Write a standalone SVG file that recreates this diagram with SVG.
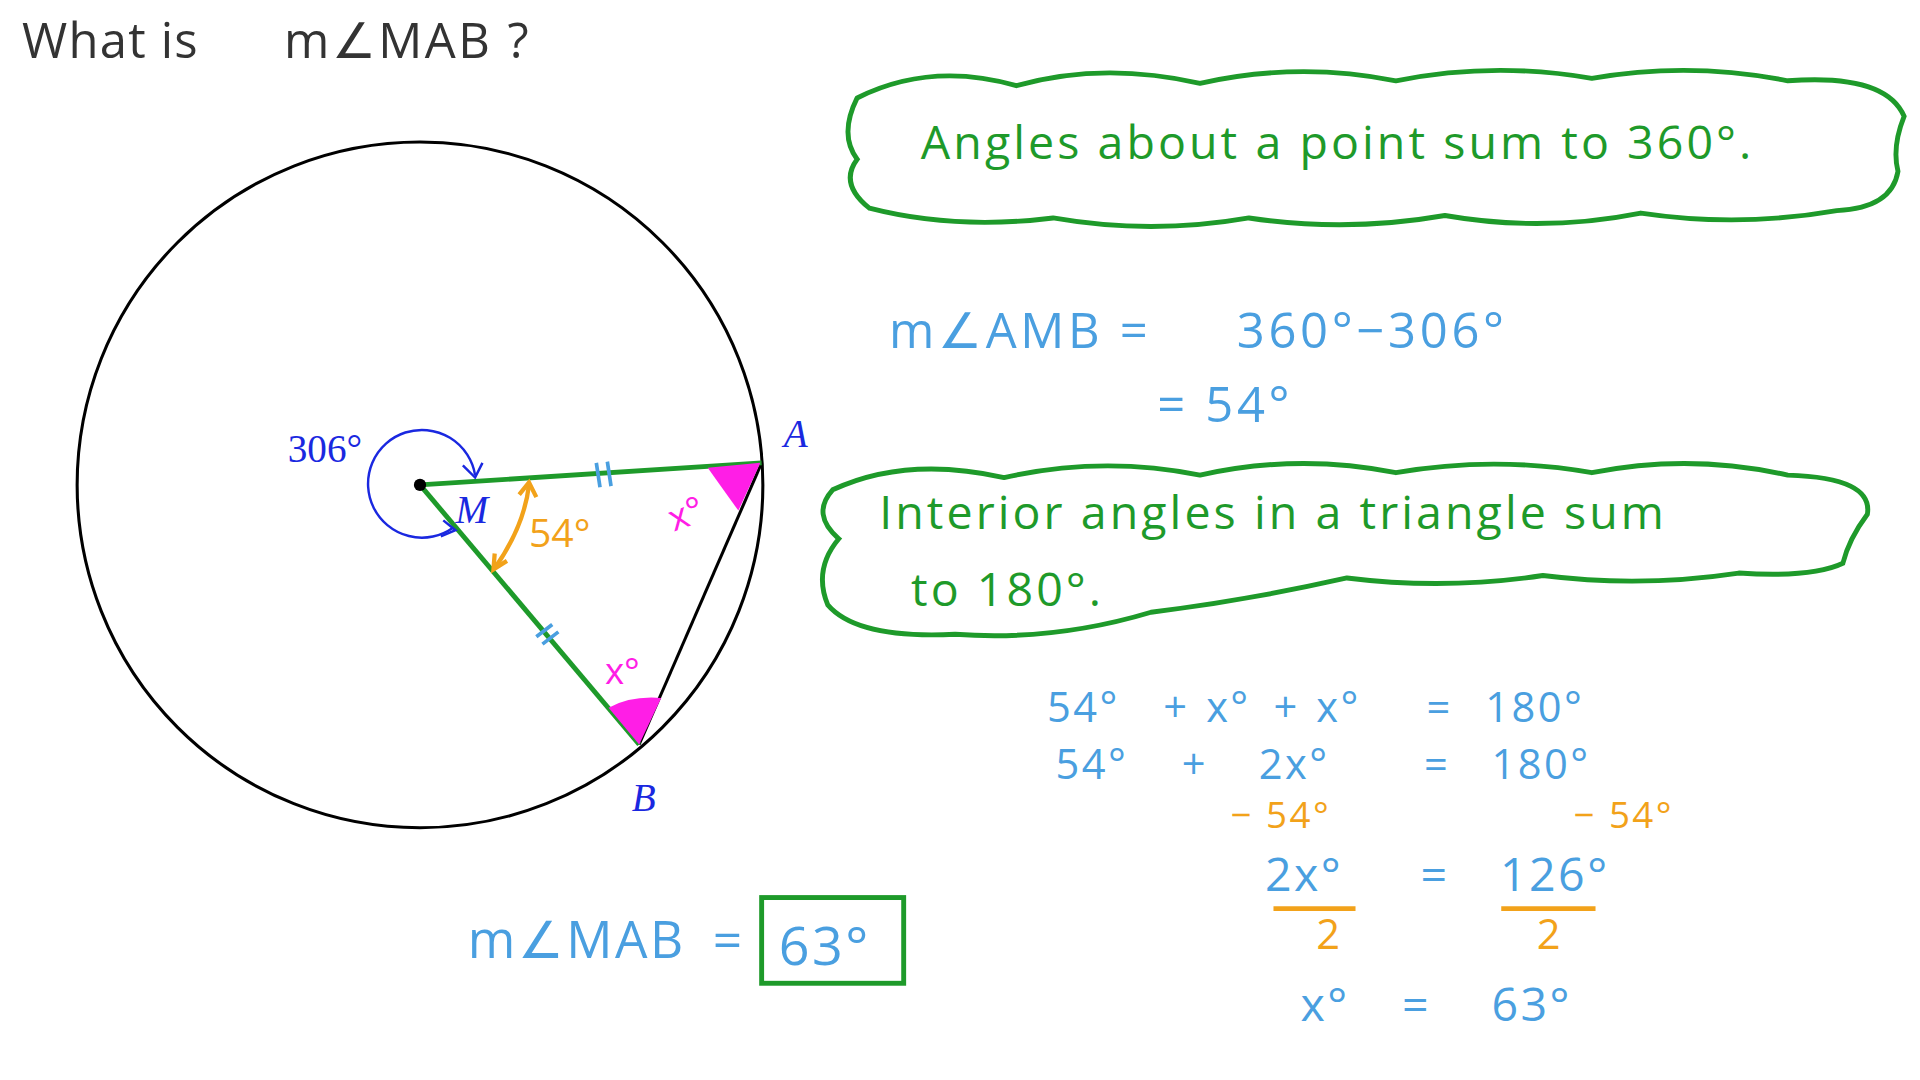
<svg xmlns="http://www.w3.org/2000/svg" width="1920" height="1080" viewBox="0 0 1920 1080">
<style>
.h{font-family:"Open Sans","Liberation Sans",sans-serif}
.b{fill:#4a9fe0}.g{fill:#1e9a2a}.o{fill:#f2a21a}.m{fill:#ff1ee6}.d{fill:#1a28e0}
.s{font-family:"Liberation Serif",serif;font-style:italic}
.cl{fill:none;stroke:#1e9a2a;stroke-width:4}
</style>
<rect width="1920" height="1080" fill="#fff"/>
<g transform="scale(1.2245)">
<text x="18" y="47" class="h" font-size="40" fill="#333" letter-spacing="1">What is</text>
<text x="232" y="47" class="h" font-size="40" fill="#333" letter-spacing="2">m∠MAB ?</text>
<g id="circle">
<circle cx="343" cy="396" r="280" fill="none" stroke="#000" stroke-width="2.5"/>
<line x1="622" y1="378" x2="522" y2="608" stroke="#000" stroke-width="2.5"/>
<line x1="343" y1="396" x2="622" y2="378" stroke="#1e9a2a" stroke-width="4"/>
<line x1="343" y1="396" x2="522" y2="608" stroke="#1e9a2a" stroke-width="4"/>
<path d="M578,382 L621,378 L603,417 Q585,392 578,382Z" fill="#ff1ee6"/>
<path d="M497,578 L522,608 L540,570 Q515,568 497,578Z" fill="#ff1ee6"/>
<circle cx="343" cy="396" r="5" fill="#000"/>
<path d="M388,388 A44,44 0 1 0 370,431" fill="none" stroke="#1a28e0" stroke-width="2"/>
<path d="M378,380 L388,390 L394,378 M362,425 L372,433 L360,438" fill="none" stroke="#1a28e0" stroke-width="2"/>
<path d="M432,396 Q428,430 404,464" fill="none" stroke="#f2a21a" stroke-width="3.5"/>
<path d="M424,404 L432,394 L438,406 M404,452 L403,465 L414,458" fill="none" stroke="#f2a21a" stroke-width="3.5"/>
<path d="M487,378 L490,398 M496,377 L499,397 M438,520 L451,510 M443,526 L456,516" stroke="#4a9fe0" stroke-width="3"/>
<text x="235" y="377" class="s d" font-size="32" style="font-style:normal">306°</text>
<text x="372" y="427" class="s d" font-size="32">M</text>
<text x="640" y="365" class="s d" font-size="32">A</text>
<text x="516" y="662" class="s d" font-size="32">B</text>
<text x="432" y="447" class="h o" font-size="32">54°</text>
<text x="546" y="430" class="h m" font-size="30" transform="rotate(-20 560 420)">x°</text>
<text x="494" y="559" class="h m" font-size="30">x°</text>
</g>
<g id="cloud1">
<path class="cl" d="M700,80 Q760,50 830,70 Q900,50 980,68 Q1060,50 1140,66 Q1220,50 1300,64 Q1380,50 1460,66 Q1540,60 1555,95 Q1545,120 1550,140 Q1545,170 1500,172 Q1420,186 1340,174 Q1260,190 1180,176 Q1100,190 1020,178 Q940,192 860,178 Q780,188 710,170 Q685,150 700,130 Q685,110 700,80Z"/>
<text x="752" y="130" class="h g" font-size="38" letter-spacing="2.5">Angles about a point sum to 360°.</text>
</g>
<text x="726" y="284" class="h b" font-size="40" letter-spacing="3">m∠AMB =</text>
<text x="1010" y="284" class="h b" font-size="40" letter-spacing="3">360°−306°</text>
<text x="945" y="345" class="h b" font-size="40" letter-spacing="3">= 54°</text>
<g id="cloud2">
<path class="cl" d="M680,400 Q740,372 820,390 Q900,372 980,388 Q1060,370 1140,386 Q1220,372 1300,386 Q1380,370 1460,388 Q1530,390 1525,420 Q1510,440 1505,460 Q1480,472 1420,468 Q1340,480 1260,470 Q1180,482 1100,472 Q1020,490 940,500 Q860,524 780,518 Q700,522 676,494 Q664,465 685,440 Q662,420 680,400Z"/>
<text x="718" y="432" class="h g" font-size="38" letter-spacing="2.5">Interior angles in a triangle sum</text>
<text x="744" y="495" class="h g" font-size="38" letter-spacing="2.5">to 180°.</text>
</g>
<g class="h" font-size="34" letter-spacing="2">
<text x="855" y="590" class="b">54°</text>
<text x="950" y="590" class="b">+</text>
<text x="985" y="590" class="b">x°</text>
<text x="1040" y="590" class="b">+</text>
<text x="1075" y="590" class="b">x°</text>
<text x="1165" y="590" class="b">=</text>
<text x="1213" y="590" class="b">180°</text>
<text x="862" y="636" class="b">54°</text>
<text x="965" y="636" class="b">+</text>
<text x="1028" y="636" class="b">2x°</text>
<text x="1163" y="636" class="b">=</text>
<text x="1218" y="636" class="b">180°</text>
<text x="1005" y="676" class="o" font-size="30">− 54°</text>
<text x="1285" y="676" class="o" font-size="30">− 54°</text>
<text x="1033" y="728" class="b" font-size="38">2x°</text>
<text x="1160" y="728" class="b" font-size="38">=</text>
<text x="1225" y="728" class="b" font-size="38">126°</text>
<line x1="1040" y1="742" x2="1107" y2="742" stroke="#f2a21a" stroke-width="4"/>
<line x1="1226" y1="742" x2="1303" y2="742" stroke="#f2a21a" stroke-width="4"/>
<text x="1075" y="775" class="o">2</text>
<text x="1255" y="775" class="o">2</text>
<text x="1062" y="834" class="b" font-size="38">x°</text>
<text x="1145" y="834" class="b" font-size="38">=</text>
<text x="1218" y="834" class="b" font-size="38">63°</text>
<text x="382" y="782" class="b" font-size="42">m∠MAB</text>
<text x="582" y="782" class="b" font-size="42">=</text>
<rect x="622" y="733" width="116" height="70" fill="none" stroke="#1e9a2a" stroke-width="4"/>
<text x="636" y="788" class="b" font-size="44">63°</text>
</g>
</g>
</svg>
